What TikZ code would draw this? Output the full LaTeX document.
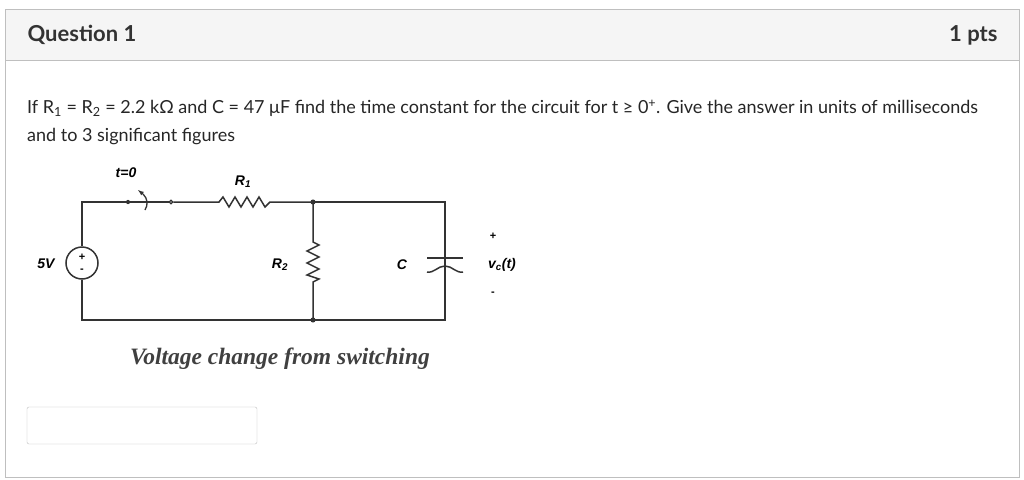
\documentclass[tikz,border=0pt]{standalone}
\usepackage{fontspec}
\setmainfont{Lato}
\newfontfamily\circfont{Liberation Sans}
\newfontfamily\capfont{Liberation Serif}
\begin{document}
\begin{tikzpicture}[x=1pt,y=-1pt,
  wire/.style={line width=1.5pt,black!80},
  dotn/.style={circle,fill=black!80,inner sep=1.8pt},
  lbl/.style={font=\circfont\bfseries\itshape\fontsize{14}{16}\selectfont,inner sep=0pt}]
\useasboundingbox (0,0) rectangle (1024,479);
\fill[white] (0,0) rectangle (1024,479);
\fill[black!4] (5,9) rectangle (1019,60);
\draw[black!25] (5,9) rectangle (1019,477);
\draw[black!25] (5,60) -- (1019,60);
\node[anchor=west,font=\fontsize{22}{24}\selectfont\bfseries,text=black!80] (q) at (24,35) {Question 1};
\node[anchor=east,font=\fontsize{22}{24}\selectfont\bfseries,text=black!80] (p) at (1001,35) {1 pts};
\node[anchor=north west,align=left,font=\fontsize{18}{28}\selectfont,text=black!85,inner sep=0pt] (txt) at (27,100)
 {If R\textsubscript{1} = R\textsubscript{2} = 2.2 kΩ and C = 47 μF find the time constant for the circuit for t ≥ 0\textsuperscript{+}. Give the answer in units of milliseconds\\ and to 3 significant figures};
% circuit
\coordinate (tl) at (82,202); \coordinate (bl) at (82,320);
\coordinate (tm) at (313,202); \coordinate (bm) at (313,320);
\coordinate (tr) at (445,202); \coordinate (br) at (445,320);
\node[circle,draw=black!80,line width=1.5pt,minimum size=32pt,inner sep=0pt] (src) at (82,263) {};
\node[font=\circfont\bfseries\fontsize{11}{11}\selectfont,inner sep=0pt] (sp) at (82,257) {+};
\node[font=\circfont\bfseries\fontsize{11}{11}\selectfont,inner sep=0pt] (sm) at (82,271) {-};
\draw[wire] (src.north) -- (tl) -- (128,202);
\draw[wire] (src.south) -- (bl) -- (br) -- (tr) -- (tm);
\node[dotn,inner sep=1.5pt] (s1) at (128,202) {};
\node[circle,draw=black!80,line width=1.2pt,inner sep=1.3pt] (s2) at (171,202) {};
\draw[wire] (s1) -- (s2);
\draw[line width=1.3pt,black!80] (143,194) to[bend left=40] (145,210);
\draw[line width=1pt,black!80,-latex] (143,194) -- (138,190);
\draw[wire] (s2) -- (219,202) -- (223,197) -- (229,207) -- (235,197) -- (241,207) -- (247,197) -- (253,207) -- (259,197) -- (265,207) -- (270,202) -- (tm);
\draw[wire] (tm) -- (313,242) -- (319,245) -- (307,251) -- (319,257) -- (307,263) -- (319,269) -- (307,275) -- (319,279) -- (313,282) -- (bm);
\node[dotn] (n1) at (tm) {};
\node[dotn] (n2) at (bm) {};
\draw[wire] (tr) -- (445,258);
\draw[wire] (427,258) -- (463,258);
\draw[wire] (427,272) to[out=-10,in=180] (445,266) to[out=0,in=190] (463,272);
\draw[wire] (445,266) -- (br);
\node[lbl] (l5) at (46,264) {5V};
\node[lbl] (lt) at (126,173) {t=0};
\node[lbl] (lr1) at (243,182) {R\textsubscript{1}};
\node[lbl] (lr2) at (280,265) {R\textsubscript{2}};
\node[lbl] (lc) at (402,265) {C};
\node[lbl] (lv) at (502,265) {v\textsubscript{c}(t)};
\node[font=\circfont\bfseries\fontsize{11}{11}\selectfont] (vp) at (493,236) {+};
\node[font=\circfont\bfseries\fontsize{11}{11}\selectfont] (vm) at (493,294) {-};
\node[font=\capfont\bfseries\itshape\fontsize{23.5}{26}\selectfont,text=black!75] (cap) at (280,359) {Voltage change from switching};
\draw[black!25,rounded corners=2pt] (27,407) rectangle (257,444);
\end{tikzpicture}
\end{document}
